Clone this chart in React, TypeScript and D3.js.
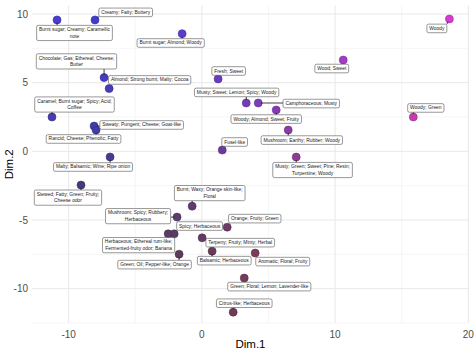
import React from 'react';
import * as d3 from 'd3';

const labels: string[] = [
  'Burnt sugar; Creamy; Caramellic\nnote',
  'Creamy; Fatty; Buttery',
  'Burnt sugar; Almond; Woody',
  'Chocolate; Gas; Ethereal; Cheese;\nButter',
  'Almond; Strong burnt; Malty; Cocoa',
  'Caramel; Burnt sugar; Spicy; Acid;\nCoffee',
  'Sweaty; Pungent; Cheese; Goat-like',
  'Rancid; Cheese; Phenolic; Fatty',
  'Malty; Balsamic; Wine; Ripe onion',
  'Stewed; Fatty; Green; Fruity;\nCheese odor',
  'Mushroom; Spicy; Rubbery;\nHerbaceous',
  'Burnt; Waxy; Orange skin-like;\nFloral',
  'Spicy; Herbaceous',
  'Orange; Fruity; Green',
  'Herbaceous; Ethereal rum-like;\nFermented-fruity odor; Banana',
  'Terpeny; Fruity; Minty; Herbal',
  'Green; Oil; Pepper-like; Orange',
  'Balsamic; Herbaceous',
  'Aromatic; Floral; Fruity',
  'Green; Floral; Lemon; Lavender-like',
  'Citrus-like; Herbaceous',
  'Fresh; Sweet',
  'Musty; Sweet; Lemon; Spicy; Woody',
  'Camphoraceous; Musty',
  'Woody; Almond; Sweet; Fruity',
  'Mushroom; Earthy; Rubber; Woody',
  'Fusel-like',
  'Musty; Green; Sweet; Pine; Resin;\nTurpentine; Woody',
  'Woody',
  'Wood; Sweet',
  'Woody; Green',
];

const dim1: number[] = [
  -10.87, -8.02, -1.48, -7.34, -6.96, -11.25, -8.09, -7.94, -6.89, -9.07,
  -1.86, -0.73, -2.08, 1.9, -2.53, 0.02, -1.71, 0.77, 4.0, 3.18,
  2.35, 1.22, 3.33, 4.23, 5.58, 6.48, 1.53, 7.08, 18.58, 10.61, 15.87,
];

const dim2: number[] = [
  9.57, 9.57, 8.57, 5.37, 4.57, 2.5, 1.84, 1.55, -0.41, -2.46,
  -4.79, -3.99, -6.01, -5.52, -6.01, -6.3, -7.49, -7.27, -7.41, -9.23,
  -11.71, 5.27, 3.52, 3.52, 3.01, 1.55, 0.09, -0.42, 9.64, 6.65, 2.5,
];

// repelled label centres, in data units
const labelDim1: number[] = [
  -9.56, -5.72, -2.34, -9.41, -3.92, -9.56, -4.52, -8.88, -8.17, -10.05,
  -4.79, 0.59, -0.17, 3.97, -4.75, 2.88, -3.55, 1.68, 6.07, 5.06,
  3.18, 2.01, 2.61, 8.21, 4.83, 7.5, 2.46, 8.31, 17.64, 9.75, 16.81,
];

const labelDim2: number[] = [
  8.62, 10.12, 7.89, 6.55, 5.2, 3.41, 1.92, 0.9, -1.14, -3.37,
  -4.72, -3.04, -5.44, -4.9, -6.83, -6.65, -8.25, -7.96, -8.03, -9.85,
  -11.06, 5.85, 4.29, 3.48, 2.35, 0.82, 0.68, -1.36, 8.95, 6.03, 3.16,
];

const xTicks: number[] = [-10, 0, 10, 20];
const yTicks: number[] = [-10, -5, 0, 5, 10];
const xMinor: number[] = [-5, 5, 15];
const yMinor: number[] = [-12.5, -7.5, -2.5, 2.5, 7.5];

const W = 474;
const H = 355;
const FONT = '"Liberation Sans", Arial, Helvetica, sans-serif';
const LABEL_FS = 4.9;
const LINE_H = 6.6;
const PAD_X = 2.4;
const PAD_Y = 1.0;
const R = 4;

const x = d3.scaleLinear().domain([-12.75, 20.05]).range([32, 469]);
const y = d3.scaleLinear().domain([-12.5, 10.62]).range([323, 5.5]);

const redScale = d3.scaleLinear().domain([-11, -8, 2, 10.6, 18.6]).range([72, 64, 108, 162, 212]).clamp(true);
const blueScale = d3
  .scaleLinear()
  .domain([-12, -7, -2.5, 0, 3.5, 10])
  .range([82, 92, 122, 150, 184, 210])
  .clamp(true);

function colorFor(dx: number, dy: number): string {
  return d3.rgb(redScale(dx), 60, blueScale(dy)).formatHex();
}

let ctx: CanvasRenderingContext2D | null = null;
function measure(t: string): number {
  if (!ctx) {
    const c = document.createElement('canvas');
    ctx = c.getContext('2d');
  }
  if (!ctx) return t.length * LABEL_FS * 0.5;
  ctx.font = `${LABEL_FS}px ${FONT}`;
  return ctx.measureText(t).width;
}

export default function App() {
  const items = labels.map((lab, i) => {
    const lines = lab.split('\n');
    const tw = Math.max(...lines.map(measure));
    const bw = tw + 2 * PAD_X;
    const bh = lines.length * LINE_H + 2 * PAD_Y;
    const cx = x(labelDim1[i]);
    const cy = y(labelDim2[i]);
    const px = x(dim1[i]);
    const py = y(dim2[i]);
    const x0 = cx - bw / 2;
    const y0 = cy - bh / 2;
    const qx = Math.max(x0, Math.min(px, x0 + bw));
    const qy = Math.max(y0, Math.min(py, y0 + bh));
    const dist = Math.hypot(px - qx, py - qy);
    let seg: null | [number, number, number, number] = null;
    if (dist - R > 0.6) {
      const ex = px + ((qx - px) / dist) * (R - 1);
      const ey = py + ((qy - py) / dist) * (R - 1);
      seg = [qx, qy, ex, ey];
    }
    return { lines, bw, bh, cx, cy, px, py, x0, y0, seg, color: colorFor(dim1[i], dim2[i]) };
  });

  const [xl, xr] = x.range();
  const [yb, yt] = y.range();

  return (
    <svg
      width={W}
      height={H}
      style={{ position: 'absolute', left: 0, top: 0, display: 'block', background: '#fff' }}
      fontFamily={FONT}
    >
      <rect x={0} y={0} width={W} height={H} fill="#fff" />
      <g>
        {xMinor.map((t) => (
          <line key={'xm' + t} x1={x(t)} x2={x(t)} y1={yt} y2={yb} stroke="#F0F0F0" strokeWidth={0.6} />
        ))}
        {yMinor.map((t) => (
          <line key={'ym' + t} x1={xl} x2={xr} y1={y(t)} y2={y(t)} stroke="#F0F0F0" strokeWidth={0.6} />
        ))}
        {xTicks.map((t) => (
          <line key={'xg' + t} x1={x(t)} x2={x(t)} y1={yt} y2={yb} stroke="#E8E8E8" strokeWidth={1} />
        ))}
        {yTicks.map((t) => (
          <line key={'yg' + t} x1={xl} x2={xr} y1={y(t)} y2={y(t)} stroke="#E8E8E8" strokeWidth={1} />
        ))}
      </g>
      <g fill="#4D4D4D" fontSize={10}>
        {xTicks.map((t) => (
          <text key={'xt' + t} x={x(t)} y={337.5} textAnchor="middle">
            {t}
          </text>
        ))}
        {yTicks.map((t) => (
          <text key={'yt' + t} x={28} y={y(t)} textAnchor="end" dominantBaseline="central">
            {t}
          </text>
        ))}
      </g>
      <text x={(xl + xr) / 2} y={348} textAnchor="middle" fontSize={11.5} fill="#000">
        Dim.1
      </text>
      <text
        transform={`translate(13,${(yt + yb) / 2}) rotate(-90)`}
        textAnchor="middle"
        fontSize={11.5}
        fill="#000"
      >
        Dim.2
      </text>
      <g>
        {items.map((it, i) => (
          <circle
            key={'p' + i}
            cx={it.px}
            cy={it.py}
            r={R}
            fill={it.color}
            stroke={d3.rgb(it.color).darker(0.7).formatHex()}
            strokeWidth={0.6}
          />
        ))}
      </g>
      <g>
        {items.map((it, i) =>
          it.seg ? (
            <line
              key={'s' + i}
              x1={it.seg[0]}
              y1={it.seg[1]}
              x2={it.seg[2]}
              y2={it.seg[3]}
              stroke="#111"
              strokeWidth={0.8}
            />
          ) : null
        )}
      </g>
      <g>
        {items.map((it, i) => (
          <g key={'l' + i}>
            <rect
              x={it.x0}
              y={it.y0}
              width={it.bw}
              height={it.bh}
              rx={1.6}
              ry={1.6}
              fill="#fff"
              stroke="#333"
              strokeWidth={0.5}
            />
            {it.lines.map((ln, k) => (
              <text
                key={k}
                x={it.cx}
                y={it.y0 + PAD_Y + LINE_H * (k + 0.5)}
                textAnchor="middle"
                dominantBaseline="central"
                fontSize={LABEL_FS}
                fill="#1a1a1a"
              >
                {ln}
              </text>
            ))}
          </g>
        ))}
      </g>
    </svg>
  );
}
